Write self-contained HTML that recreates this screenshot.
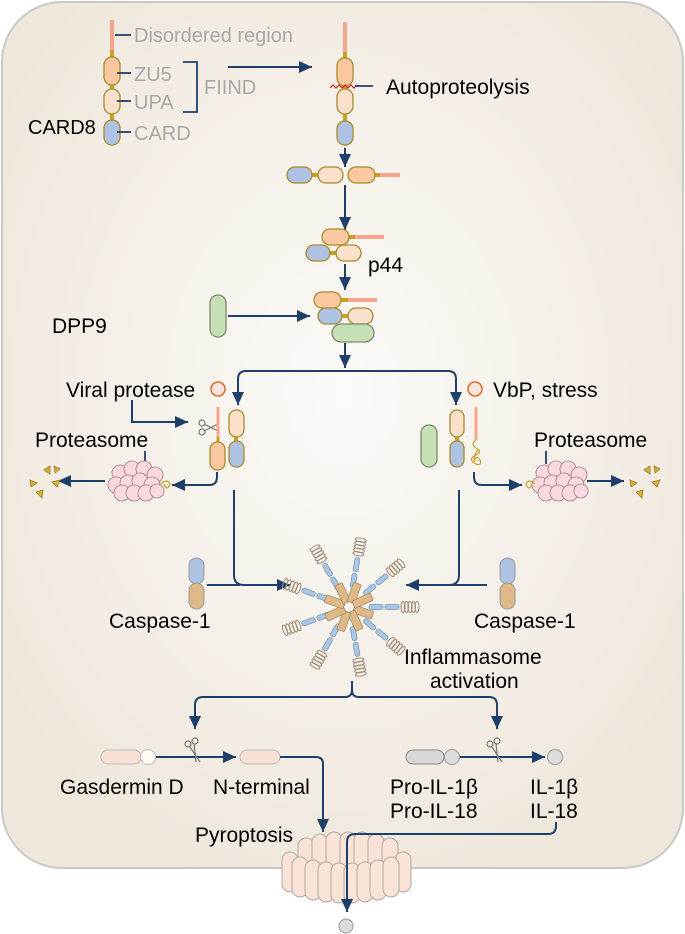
<!DOCTYPE html>
<html><head><meta charset="utf-8"><style>
html,body{margin:0;padding:0;background:#fff}
svg{display:block}
text{font-family:"Liberation Sans",Arial,sans-serif}
</style></head><body>
<svg width="685" height="934" viewBox="0 0 685 934" xmlns="http://www.w3.org/2000/svg">
<defs>
<radialGradient id="bg" cx="0.5" cy="0.45" r="0.6">
<stop offset="0" stop-color="#fbfaf7"/><stop offset="1" stop-color="#efe7dc"/>
</radialGradient>
<marker id="ar2" markerWidth="14" markerHeight="14" refX="13" refY="6" orient="auto" markerUnits="userSpaceOnUse"><path d="M0,0 L13,6 L0,12 z" fill="#1f3f6b"/></marker>
<g id="spring" fill="none" stroke="#a08870" stroke-width="1"><ellipse cx="0" cy="0" rx="2" ry="5.5"/><ellipse cx="3.5" cy="0" rx="2" ry="5.5"/><ellipse cx="7" cy="0" rx="2" ry="5.5"/><ellipse cx="10.5" cy="0" rx="2" ry="5.5"/><ellipse cx="14" cy="0" rx="2" ry="5.5"/></g>
<g id="prot">
<circle cx="-16" cy="-8" r="8"/><circle cx="-4" cy="-12" r="8"/><circle cx="8" cy="-12" r="8"/><circle cx="19" cy="-6" r="8"/>
<circle cx="-20" cy="4" r="8"/><circle cx="-8" cy="2" r="8"/><circle cx="4" cy="0" r="8"/><circle cx="16" cy="4" r="8"/>
<circle cx="-14" cy="12" r="8"/><circle cx="-2" cy="12" r="8"/><circle cx="10" cy="12" r="8"/><circle cx="21" cy="10" r="7"/>
</g>
<g id="frag" fill="#d8b040" stroke="#9a7a20" stroke-width="0.8">
<path d="M0,0 l7,3 l-6,4z"/><path d="M14,-10 l6,-4 l0,8z"/><path d="M22,2 l8,-2 l-3,7z"/><path d="M6,12 l7,-2 l-1,8z"/><path d="M24,-14 l6,3 l-5,4z"/>
</g>
</defs>
<rect x="2" y="2" width="681" height="866" rx="60" fill="url(#bg)" stroke="#c8c8c8" stroke-width="2"/>

<!-- CARD8 left -->
<g stroke-width="1.3">
<line x1="112" y1="20" x2="112" y2="50" stroke="#f4a58a" stroke-width="4"/>
<line x1="112" y1="50" x2="112" y2="124" stroke="#c9a020" stroke-width="4"/>
<rect x="104" y="57" width="16" height="28" rx="8" fill="#f9c8a0" stroke="#a88a2a"/>
<rect x="104" y="89" width="16" height="25" rx="8" fill="#fbe0cc" stroke="#a88a2a"/>
<rect x="104" y="120" width="16" height="25" rx="8" fill="#aec3e3" stroke="#a88a2a"/>
</g>
<g stroke="#1f3f6b" stroke-width="1.8" fill="none">
<line x1="115" y1="35" x2="131" y2="35"/><line x1="117" y1="73" x2="131" y2="73"/><line x1="117" y1="101" x2="131" y2="101"/><line x1="117" y1="132" x2="131" y2="132"/>
<path d="M183,62 H197 V112 H183"/>
</g>
<g fill="#a8a8a8" font-size="20"><text x="134" y="42">Disordered region</text><text x="134" y="81">ZU5</text><text x="134" y="109">UPA</text><text x="134" y="140">CARD</text><text x="204" y="94">FIIND</text></g>
<text x="28" y="134" font-size="20">CARD8</text>
<line x1="228" y1="67" x2="312" y2="67" stroke="#1f3f6b" stroke-width="2" marker-end="url(#ar2)"/>

<!-- right stick -->
<g stroke-width="1.3">
<line x1="345" y1="22" x2="345" y2="52" stroke="#f4a58a" stroke-width="4"/>
<line x1="345" y1="52" x2="345" y2="124" stroke="#c9a020" stroke-width="4"/>
<rect x="337" y="58" width="16" height="28" rx="8" fill="#f9c8a0" stroke="#a88a2a"/>
<rect x="337" y="89" width="16" height="25" rx="8" fill="#fbe0cc" stroke="#a88a2a"/>
<rect x="337" y="121" width="16" height="24" rx="8" fill="#aec3e3" stroke="#a88a2a"/>
</g>
<path d="M330,88 l3,-3 l3,3 l3,-3 l3,3 l3,-3 l3,3 l3,-3 l3,3 l3,-3" fill="none" stroke="#d02020" stroke-width="1.2"/>
<line x1="355" y1="86" x2="373" y2="86" stroke="#1f3f6b" stroke-width="1.8"/>
<text x="386" y="94" font-size="21">Autoproteolysis</text>
<line x1="345" y1="148" x2="345" y2="167" stroke="#1f3f6b" stroke-width="2" marker-end="url(#ar2)"/>

<!-- horizontal -->
<g stroke-width="1.3" stroke="#a88a2a">
<line x1="310" y1="175" x2="320" y2="175" stroke="#c9a020" stroke-width="4"/>
<line x1="372" y1="175" x2="380" y2="175" stroke="#c9a020" stroke-width="4"/>
<line x1="380" y1="175" x2="400" y2="175" stroke="#f4a58a" stroke-width="4"/>
<rect x="287" y="167" width="25" height="16" rx="8" fill="#aec3e3"/>
<rect x="318" y="167" width="25" height="16" rx="8" fill="#fbe0cc"/>
<rect x="348" y="167" width="27" height="16" rx="8" fill="#f9c8a0"/>
</g>
<line x1="345" y1="185" x2="345" y2="230" stroke="#1f3f6b" stroke-width="2" marker-end="url(#ar2)"/>
<!-- p44 -->
<g stroke-width="1.3" stroke="#a88a2a">
<line x1="347" y1="237" x2="384" y2="237" stroke="#f4a58a" stroke-width="4"/>
<line x1="347" y1="237" x2="355" y2="237" stroke="#c9a020" stroke-width="4"/>
<line x1="328" y1="253" x2="338" y2="253" stroke="#c9a020" stroke-width="4"/>
<rect x="322" y="229" width="27" height="16" rx="8" fill="#f9c8a0"/>
<rect x="306" y="245" width="24" height="16" rx="8" fill="#aec3e3"/>
<rect x="336" y="245" width="25" height="16" rx="8" fill="#fbe0cc"/>
</g>
<text x="368" y="272" font-size="21">p44</text>
<line x1="345" y1="264" x2="345" y2="290" stroke="#1f3f6b" stroke-width="2" marker-end="url(#ar2)"/>
<!-- with DPP9 -->
<g stroke-width="1.3" stroke="#a88a2a">
<line x1="340" y1="300" x2="377" y2="300" stroke="#f4a58a" stroke-width="4"/>
<line x1="340" y1="300" x2="348" y2="300" stroke="#c9a020" stroke-width="4"/>
<line x1="340" y1="316" x2="350" y2="316" stroke="#c9a020" stroke-width="4"/>
<rect x="314" y="292" width="27" height="16" rx="8" fill="#f9c8a0"/>
<rect x="318" y="308" width="24" height="16" rx="8" fill="#aec3e3"/>
<rect x="348" y="308" width="25" height="16" rx="8" fill="#fbe0cc"/>
<rect x="332" y="324" width="42" height="18" rx="9" fill="#c5e0b4" stroke="#7a8a6a"/>
</g>
<text x="52" y="333" font-size="21">DPP9</text>
<rect x="210" y="295" width="16" height="42" rx="8" fill="#c5e0b4" stroke="#7a8a6a" stroke-width="1.3"/>
<line x1="228" y1="316" x2="310" y2="316" stroke="#1f3f6b" stroke-width="2" marker-end="url(#ar2)"/>
<line x1="345" y1="343" x2="345" y2="368" stroke="#1f3f6b" stroke-width="2" marker-end="url(#ar2)"/>

<!-- branch -->
<path d="M345,371 H246 Q238,371 238,379 V405" fill="none" stroke="#1f3f6b" stroke-width="2" marker-end="url(#ar2)"/>
<path d="M345,371 H448 Q456,371 456,379 V405" fill="none" stroke="#1f3f6b" stroke-width="2" marker-end="url(#ar2)"/>

<!-- left branch -->
<text x="66" y="397" font-size="21">Viral protease</text>
<circle cx="218" cy="389" r="7" fill="#fbe6dc" stroke="#d96a30" stroke-width="1.5"/>
<path d="M132,400 V422 H188" fill="none" stroke="#1f3f6b" stroke-width="2" marker-end="url(#ar2)"/>
<g stroke="#777" stroke-width="1.2" fill="none"><circle cx="202" cy="423" r="3"/><circle cx="202" cy="432" r="3"/><line x1="204" y1="424" x2="218" y2="431"/><line x1="204" y1="431" x2="218" y2="424"/></g>
<g stroke-width="1.3" stroke="#a88a2a">
<line x1="218" y1="407" x2="218" y2="437" stroke="#f4a58a" stroke-width="3"/>
<line x1="218" y1="437" x2="218" y2="443" stroke="#c9a020" stroke-width="3"/>
<line x1="236" y1="436" x2="236" y2="442" stroke="#c9a020" stroke-width="4"/>
<rect x="210" y="442" width="15" height="28" rx="7.5" fill="#f9c8a0"/>
<rect x="229" y="410" width="15" height="27" rx="7.5" fill="#fbe0cc"/>
<rect x="229" y="441" width="15" height="26" rx="7.5" fill="#aec3e3"/>
</g>
<text x="35" y="447" font-size="21">Proteasome</text>
<line x1="145" y1="451" x2="145" y2="464" stroke="#1f3f6b" stroke-width="1.8"/>
<g fill="#fad8de" stroke="#9a7f88" stroke-width="0.8" transform="translate(136,481)"><use href="#prot"/></g>
<path d="M161,484 q6,-6 9,0 q-3,8 -6,0" fill="none" stroke="#c9a020" stroke-width="1.2"/>
<path d="M217,472 V477 Q217,485 209,485 H172" fill="none" stroke="#1f3f6b" stroke-width="2" marker-end="url(#ar2)"/>
<line x1="105" y1="481" x2="58" y2="481" stroke="#1f3f6b" stroke-width="2" marker-end="url(#ar2)"/>
<g transform="translate(30,480)"><use href="#frag"/></g>
<path d="M234,490 V575 Q234,585 244,585 H290" fill="none" stroke="#1f3f6b" stroke-width="2" marker-end="url(#ar2)"/>
<line x1="207" y1="585" x2="240" y2="585" stroke="#1f3f6b" stroke-width="2"/>
<rect x="189" y="558" width="15" height="26" rx="7.5" fill="#aec3e3" stroke="#999" stroke-width="1"/>
<rect x="189" y="583" width="15" height="26" rx="7.5" fill="#deb887" stroke="#999" stroke-width="1"/>
<text x="109" y="628" font-size="21">Caspase-1</text>

<!-- right branch -->
<circle cx="475" cy="389" r="7" fill="#fbe6dc" stroke="#d96a30" stroke-width="1.5"/>
<text x="493" y="397" font-size="21">VbP, stress</text>
<rect x="421" y="425" width="16" height="42" rx="8" fill="#c5e0b4" stroke="#7a8a6a" stroke-width="1.3"/>
<g stroke-width="1.3" stroke="#a88a2a">
<line x1="457" y1="436" x2="457" y2="442" stroke="#c9a020" stroke-width="4"/>
<rect x="450" y="410" width="14" height="27" rx="7" fill="#fbe0cc"/>
<rect x="450" y="441" width="14" height="26" rx="7" fill="#aec3e3"/>
<line x1="476" y1="407" x2="476" y2="440" stroke="#f4a58a" stroke-width="3"/>
</g>
<path d="M476,440 q-6,4 0,8 q8,4 -2,8 q-6,4 2,8 q6,2 4,-4 q-4,-6 -6,2 q0,-8 4,-12" fill="none" stroke="#c9a020" stroke-width="1.2"/>
<path d="M474,472 V477 Q474,485 482,485 H522" fill="none" stroke="#1f3f6b" stroke-width="2" marker-end="url(#ar2)"/>
<text x="534" y="447" font-size="21">Proteasome</text>
<line x1="546" y1="451" x2="546" y2="464" stroke="#1f3f6b" stroke-width="1.8"/>
<g fill="#fad8de" stroke="#9a7f88" stroke-width="0.8" transform="translate(560,481)"><use href="#prot"/></g>
<path d="M535,484 q-6,-6 -9,0 q3,8 6,0" fill="none" stroke="#c9a020" stroke-width="1.2"/>
<line x1="587" y1="481" x2="624" y2="481" stroke="#1f3f6b" stroke-width="2" marker-end="url(#ar2)"/>
<g transform="translate(630,480)"><use href="#frag"/></g>
<path d="M459,490 V575 Q459,585 449,585 H406" fill="none" stroke="#1f3f6b" stroke-width="2" marker-end="url(#ar2)"/>
<line x1="450" y1="585" x2="487" y2="585" stroke="#1f3f6b" stroke-width="2"/>
<rect x="500" y="558" width="15" height="26" rx="7.5" fill="#aec3e3" stroke="#999" stroke-width="1"/>
<rect x="500" y="583" width="15" height="26" rx="7.5" fill="#deb887" stroke="#999" stroke-width="1"/>
<text x="474" y="628" font-size="21">Caspase-1</text>

<!-- inflammasome -->
<g transform="translate(349,607)">
<g id="spoke">
<rect x="20" y="-2.5" width="14" height="5" rx="2" fill="#a9c6e4" stroke="#7890a8" stroke-width="0.7"/>
<rect x="36" y="-2.5" width="14" height="5" rx="2" fill="#a9c6e4" stroke="#7890a8" stroke-width="0.7"/>
<g transform="translate(54,0)"><use href="#spring"/></g>
</g>
<use href="#spoke" transform="rotate(40)"/>
<use href="#spoke" transform="rotate(80)"/>
<use href="#spoke" transform="rotate(120)"/>
<use href="#spoke" transform="rotate(160)"/>
<use href="#spoke" transform="rotate(200)"/>
<use href="#spoke" transform="rotate(240)"/>
<use href="#spoke" transform="rotate(280)"/>
<use href="#spoke" transform="rotate(320)"/>
<g fill="#deb887" stroke="#a08060" stroke-width="0.7">
<rect x="5" y="-4" width="20" height="8" rx="1" transform="rotate(20)"/>
<rect x="5" y="-4" width="20" height="8" rx="1" transform="rotate(65)"/>
<rect x="5" y="-4" width="20" height="8" rx="1" transform="rotate(110)"/>
<rect x="5" y="-4" width="20" height="8" rx="1" transform="rotate(155)"/>
<rect x="5" y="-4" width="20" height="8" rx="1" transform="rotate(200)"/>
<rect x="5" y="-4" width="20" height="8" rx="1" transform="rotate(245)"/>
<rect x="5" y="-4" width="20" height="8" rx="1" transform="rotate(290)"/>
<rect x="5" y="-4" width="20" height="8" rx="1" transform="rotate(335)"/>
</g>
</g>
<text x="404" y="664" font-size="21">Inflammasome</text>
<text x="430" y="688" font-size="21">activation</text>

<!-- brace + split -->
<path d="M352,681 V690 Q352,697 345,697 H203 Q195,697 195,705 V729" fill="none" stroke="#1f3f6b" stroke-width="2" marker-end="url(#ar2)"/>
<path d="M352,690 Q352,697 359,697 H489 Q497,697 497,705 V729" fill="none" stroke="#1f3f6b" stroke-width="2" marker-end="url(#ar2)"/>

<!-- gasdermin -->
<rect x="101" y="750" width="40" height="14" rx="7" fill="#f9e0d4" stroke="#bbb" stroke-width="1"/>
<circle cx="148" cy="757" r="7.5" fill="#fdfbf3" stroke="#bbb" stroke-width="1"/>
<line x1="156" y1="757" x2="236" y2="757" stroke="#1f3f6b" stroke-width="2" marker-end="url(#ar2)"/>
<g stroke="#777" stroke-width="1.2" fill="none"><circle cx="188" cy="744" r="3"/><circle cx="195" cy="741" r="3"/><line x1="190" y1="747" x2="200" y2="762"/><line x1="194" y1="744" x2="196" y2="762"/></g>
<rect x="240" y="750" width="40" height="14" rx="7" fill="#f9e0d4" stroke="#bbb" stroke-width="1"/>
<path d="M280,757 H316 Q323,757 323,764 V832" fill="none" stroke="#1f3f6b" stroke-width="2" marker-end="url(#ar2)"/>
<text x="60" y="794" font-size="21">Gasdermin D</text>
<text x="213" y="794" font-size="21">N-terminal</text>
<text x="195" y="842" font-size="21">Pyroptosis</text>

<!-- IL -->
<rect x="406" y="750" width="38" height="14" rx="7" fill="#d8d8d8" stroke="#888" stroke-width="1"/>
<circle cx="452" cy="757" r="7.5" fill="#dcdcdc" stroke="#999" stroke-width="1"/>
<line x1="460" y1="757" x2="545" y2="757" stroke="#1f3f6b" stroke-width="2" marker-end="url(#ar2)"/>
<g stroke="#777" stroke-width="1.2" fill="none"><circle cx="490" cy="744" r="3"/><circle cx="497" cy="741" r="3"/><line x1="492" y1="747" x2="502" y2="762"/><line x1="496" y1="744" x2="498" y2="762"/></g>
<circle cx="555" cy="757" r="7.5" fill="#dcdcdc" stroke="#999" stroke-width="1"/>
<text x="390" y="794" font-size="21">Pro-IL-1β</text>
<text x="390" y="818" font-size="21">Pro-IL-18</text>
<text x="530" y="794" font-size="21">IL-1β</text>
<text x="530" y="818" font-size="21">IL-18</text>

<!-- pore -->
<g fill="#f9e2d6" stroke="#b0a8a4" stroke-width="1">
<rect x="298" y="838" width="16" height="40" rx="8"/><rect x="312" y="834" width="16" height="40" rx="8"/><rect x="326" y="832" width="16" height="40" rx="8"/><rect x="340" y="832" width="16" height="40" rx="8"/><rect x="354" y="832" width="16" height="40" rx="8"/><rect x="368" y="834" width="16" height="40" rx="8"/><rect x="382" y="838" width="16" height="40" rx="8"/>
<rect x="282" y="852" width="16" height="40" rx="8"/><rect x="395" y="852" width="16" height="40" rx="8"/>
<rect x="292" y="857" width="16" height="40" rx="8"/><rect x="305" y="860" width="16" height="40" rx="8"/><rect x="318" y="862" width="16" height="40" rx="8"/><rect x="331" y="863" width="16" height="40" rx="8"/><rect x="344" y="863" width="16" height="40" rx="8"/><rect x="357" y="862" width="16" height="40" rx="8"/><rect x="370" y="860" width="16" height="40" rx="8"/><rect x="383" y="857" width="16" height="40" rx="8"/>
</g>
<path d="M556,822 V826 Q556,834 548,834 H355 Q347,834 347,842 V912" fill="none" stroke="#1f3f6b" stroke-width="2" marker-end="url(#ar2)"/>
<circle cx="346" cy="926" r="7" fill="#dcdcdc" stroke="#999" stroke-width="1"/>
</svg>
</body></html>
